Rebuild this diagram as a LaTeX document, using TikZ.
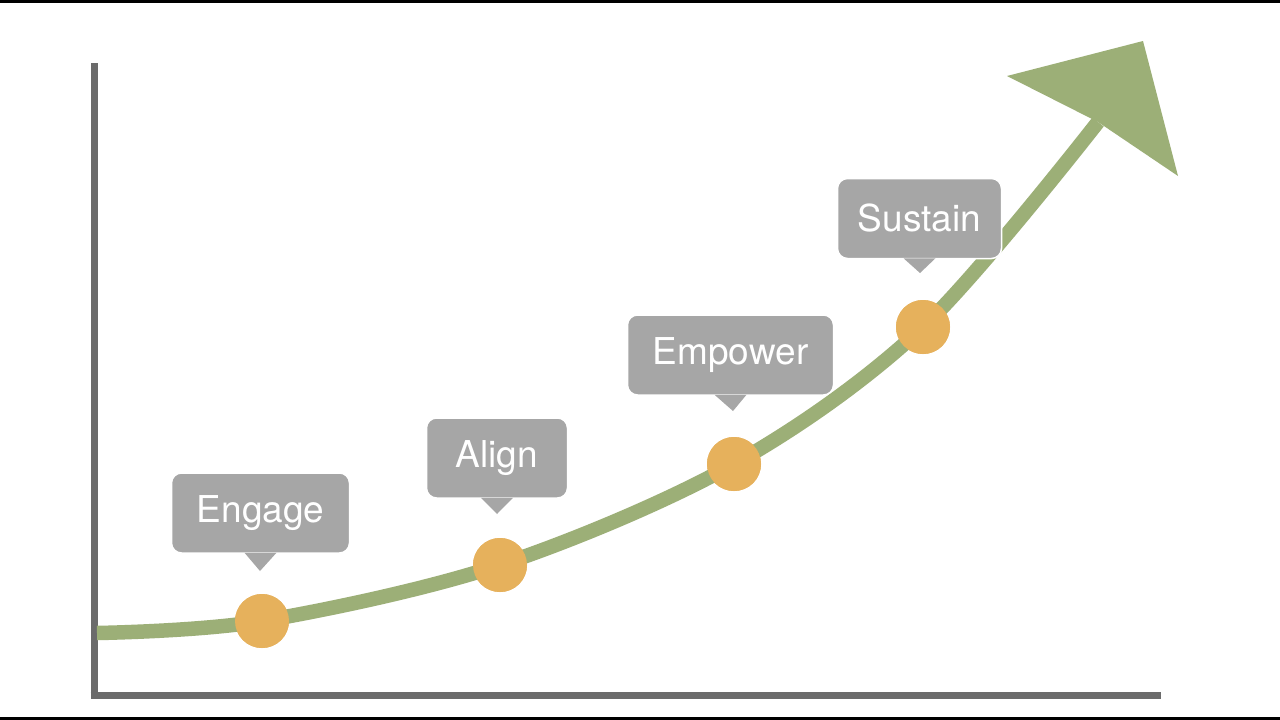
\documentclass[tikz,border=0pt]{standalone}
\usepackage{fontspec}
\setmainfont{TeX Gyre Heros}
\definecolor{curvegreen}{HTML}{9CAF77}
\definecolor{axisgray}{HTML}{6B6B6B}
\definecolor{bubblegray}{HTML}{A6A6A6}
\definecolor{dotorange}{HTML}{E6B15C}
\tikzset{
  axisline/.style={draw=axisgray, line width=7pt},
  curveline/.style={draw=curvegreen, line width=14.5pt},
  dot/.style={circle, fill=dotorange, inner sep=0pt, minimum size=54pt},
  bubble/.style={rectangle, rounded corners=10pt, fill=bubblegray, draw=white, line width=1.5pt,
    text=white, font=\fontsize{37}{42}\selectfont, inner sep=0pt, minimum height=80pt},
  pointer/.style={fill=bubblegray},
}
\begin{document}
\begin{tikzpicture}[x=1pt,y=-1pt]
\useasboundingbox (0,0) rectangle (1280,720);
\fill[white] (0,0) rectangle (1280,720);
% letterbox bars
\fill[black] (0,0) rectangle (1280,2.5);
\fill[black] (0,716.5) rectangle (1280,720);
% axes
\coordinate (ytop) at (94,63);
\coordinate (origin) at (94,695);
\coordinate (xend) at (1161,695);
\draw[axisline] (ytop) -- (94,698.5);
\draw[axisline] (90.5,695) -- (xend);
% curve points
\coordinate (cstart) at (97,633);
\coordinate (abase) at (1098,122);
\node[dot] (d1) at (262,621) {};
\node[dot] (d2) at (500,565) {};
\node[dot] (d3) at (734,464) {};
\node[dot] (d4) at (923,327) {};
\draw[curveline] plot[smooth, tension=0.55] coordinates {(cstart) (262,621) (500,565) (734,464) (923,327) (abase)};
% arrow head
\coordinate (hl) at (1007,76);
\coordinate (ht) at (1143,41);
\coordinate (hr) at (1178,176);
\fill[curvegreen] (hl) -- (ht) -- (hr) -- (abase) -- cycle;
% dots on top of the curve
\fill[dotorange] (d1.center) circle (27);
\fill[dotorange] (d2.center) circle (27);
\fill[dotorange] (d3.center) circle (27);
\fill[dotorange] (d4.center) circle (27);
% bubbles
\node[bubble, minimum width=178pt] (b1) at (260.5,513) {Engage};
\fill[pointer] ([xshift=-16pt,yshift=1pt]b1.south) -- (260,571) -- ([xshift=16pt,yshift=1pt]b1.south) -- cycle;
\node[bubble, minimum width=141pt] (b2) at (497,458) {Align};
\fill[pointer] ([xshift=-16pt,yshift=1pt]b2.south) -- (497,514) -- ([xshift=16pt,yshift=1pt]b2.south) -- cycle;
\node[bubble, minimum width=206pt] (b3) at (730.5,355) {Empower};
\fill[pointer] ([xshift=-16pt,yshift=1pt]b3.south) -- (733,411) -- ([xshift=16pt,yshift=1pt]b3.south) -- cycle;
\node[bubble, minimum width=164pt] (b4) at (919.5,218.5) {Sustain};
\fill[pointer] ([xshift=-16pt,yshift=1pt]b4.south) -- (920,273) -- ([xshift=16pt,yshift=1pt]b4.south) -- cycle;
\end{tikzpicture}
\end{document}
